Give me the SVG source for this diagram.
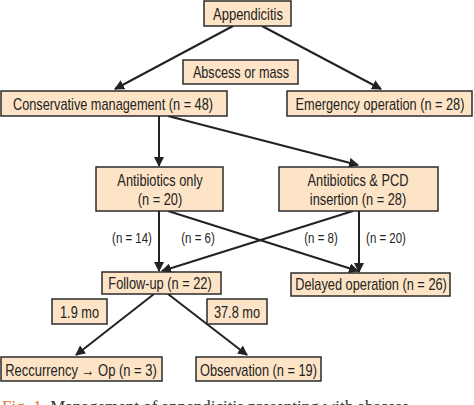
<svg xmlns="http://www.w3.org/2000/svg" width="474" height="405" viewBox="0 0 474 405">
<defs>
<style>
.box{fill:#FDE4C6;stroke:#2b2b2b;stroke-width:1.5}
.t{font-family:"Liberation Sans",Arial,sans-serif;font-size:16px;fill:#222;text-anchor:middle}
.s{font-family:"Liberation Sans",Arial,sans-serif;font-size:14px;fill:#222;text-anchor:middle}
.c{stroke:#222;stroke-width:2;fill:none;marker-end:url(#ah)}
.cap{font-family:"Liberation Serif","Times New Roman",serif;font-size:17px;fill:#333}
</style>
<marker id="ah" viewBox="0 0 10 10" refX="9" refY="5" markerWidth="5" markerHeight="5" markerUnits="strokeWidth" orient="auto">
<path d="M0,0 L10,5 L0,10 z" fill="#222"/>
</marker>
</defs>
<rect width="474" height="405" fill="#fff"/>
<g id="connectors">
<line class="c" x1="233" y1="26" x2="115" y2="89"/>
<line class="c" x1="262" y1="26" x2="381" y2="89"/>
<line class="c" x1="159" y1="116" x2="159" y2="166"/>
<line class="c" x1="168" y1="116" x2="358" y2="165"/>
<line class="c" x1="159" y1="211" x2="159" y2="271"/>
<line class="c" x1="168" y1="211" x2="358" y2="271"/>
<line class="c" x1="353" y1="211" x2="162" y2="271"/>
<line class="c" x1="359" y1="211" x2="359" y2="272"/>
<line class="c" x1="154" y1="294" x2="76" y2="355"/>
<line class="c" x1="168" y1="294" x2="247" y2="355"/>
</g>
<g id="appendicitis"><rect class="box" x="204" y="1" width="87" height="25"/><text class="t" transform="translate(248 19.5) scale(0.81 1)">Appendicitis</text></g>
<g id="abscess"><rect class="box" x="183" y="60" width="115" height="24"/><text class="t" transform="translate(241 77.5) scale(0.79 1)">Abscess or mass</text></g>
<g id="conservative"><rect class="box" x="1" y="91" width="226" height="25"/><text class="t" transform="translate(113 109.5) scale(0.797 1)">Conservative management (n = 48)</text></g>
<g id="emergency"><rect class="box" x="287" y="91" width="185" height="25"/><text class="t" transform="translate(380 109.5) scale(0.797 1)">Emergency operation (n = 28)</text></g>
<g id="antibiotics"><rect class="box" x="96" y="167" width="127" height="44"/><text class="t" transform="translate(160 185.5) scale(0.8 1)">Antibiotics only</text><text class="t" transform="translate(160 204.5) scale(0.8 1)">(n = 20)</text></g>
<g id="pcd"><rect class="box" x="279" y="167" width="159" height="44"/><text class="t" transform="translate(358 185.5) scale(0.8 1)">Antibiotics &amp; PCD</text><text class="t" transform="translate(358 204.5) scale(0.8 1)">insertion (n = 28)</text></g>
<g id="labels">
<text class="s" transform="translate(132 242.5) scale(0.82 1)">(n = 14)</text>
<text class="s" transform="translate(198 242.5) scale(0.82 1)">(n = 6)</text>
<text class="s" transform="translate(321 242.5) scale(0.82 1)">(n = 8)</text>
<text class="s" transform="translate(386 242.5) scale(0.82 1)">(n = 20)</text>
</g>
<g id="followup"><rect class="box" x="102" y="272" width="119" height="22"/><text class="t" transform="translate(160 289) scale(0.8 1)">Follow-up (n = 22)</text></g>
<g id="delayed"><rect class="box" x="291" y="273" width="159" height="23"/><text class="t" transform="translate(371 290) scale(0.8 1)">Delayed operation (n = 26)</text></g>
<g id="t19"><rect class="box" x="52" y="299" width="55" height="25"/><text class="t" transform="translate(79.5 317.5) scale(0.8 1)">1.9 mo</text></g>
<g id="t378"><rect class="box" x="207" y="299" width="60" height="25"/><text class="t" transform="translate(237 317.5) scale(0.8 1)">37.8 mo</text></g>
<g id="recurrency"><rect class="box" x="1" y="357" width="161" height="24"/><text class="t" transform="translate(81 375.5) scale(0.81 1)">Reccurrency → Op (n = 3)</text></g>
<g id="observation"><rect class="box" x="196" y="357" width="125" height="24"/><text class="t" transform="translate(258.5 375.5) scale(0.8 1)">Observation (n = 19)</text></g>
<text class="cap" x="2" y="412"><tspan fill="#E07B39">Fig. 1.</tspan> Management of appendicitis presenting with abscess</text>
</svg>
